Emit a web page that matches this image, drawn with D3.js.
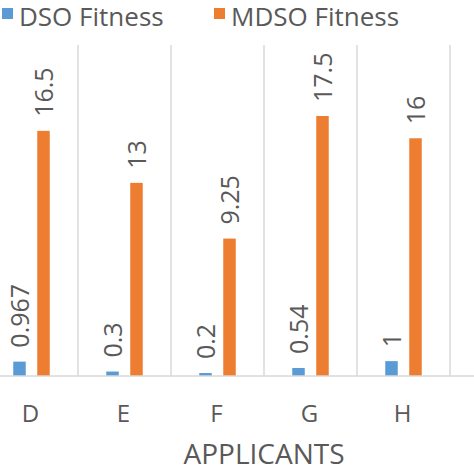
<!DOCTYPE html>
<html><head><meta charset="utf-8">
<script src="https://cdn.jsdelivr.net/npm/d3@7"></script>
<style>body{margin:0;background:#fff}text{font-family:"Open Sans",sans-serif;fill:#595959}</style>
</head><body><svg id="c" width="474" height="474"></svg>
<script>
const categories = ['D', 'E', 'F', 'G', 'H'];
const dsoValues = [0.967, 0.3, 0.2, 0.54, 1];
const mdsoValues = [16.5, 13, 9.25, 17.5, 16];
const dsoLabels = ['0.967', '0.3', '0.2', '0.54', '1'];
const mdsoLabels = ['16.5', '13', '9.25', '17.5', '16'];

const svg = d3.select('#c');
const baseY = 376;
const x = d3.scaleBand().domain(categories).range([-15, 450]);
const y = d3.scaleLinear().domain([0, 17.5]).range([baseY, 116]);
const series = [
    { vals: dsoValues, labels: dsoLabels, color: '#5B9BD5', off: -12 },
    { vals: mdsoValues, labels: mdsoLabels, color: '#ED7D31', off: 12 }
];
const bw = 12.5;

// gridlines at band edges
svg.selectAll('line.grid').data(categories).enter().append('line')
    .attr('x1', d => x(d) + x.bandwidth()).attr('x2', d => x(d) + x.bandwidth())
    .attr('y1', 45).attr('y2', baseY)
    .attr('stroke', '#d9d9d9').attr('stroke-width', 1.5);

series.forEach((s) => {
    const cx = d => x(d) + x.bandwidth() / 2 + s.off;
    svg.selectAll(null).data(categories).enter().append('rect')
        .attr('x', d => cx(d) - bw / 2)
        .attr('y', (d, i) => y(s.vals[i]))
        .attr('width', bw)
        .attr('height', (d, i) => baseY - y(s.vals[i]))
        .attr('fill', s.color);
    svg.selectAll(null).data(categories).enter().append('text')
        .attr('transform', (d, i) => `translate(${cx(d) + 9},${y(s.vals[i]) - 14}) rotate(-90)`)
        .attr('font-size', 25)
        .text((d, i) => s.labels[i]);
});

svg.append('line').attr('x1', 0).attr('x2', 474).attr('y1', baseY).attr('y2', baseY)
    .attr('stroke', '#d9d9d9').attr('stroke-width', 1.5);

svg.selectAll('text.tick').data(categories).enter().append('text')
    .attr('x', d => x(d) + x.bandwidth() / 2 - 1).attr('y', 422)
    .attr('text-anchor', 'middle').attr('font-size', 24).text(d => d);

svg.append('text').attr('x', 264).attr('y', 464).attr('text-anchor', 'middle')
    .attr('font-size', 28).text('APPLICANTS');

// legend
const legend = [['DSO Fitness', '#5B9BD5', 2], ['MDSO Fitness', '#ED7D31', 214]];
legend.forEach(([t, c, lx]) => {
    svg.append('rect').attr('x', lx).attr('y', 8).attr('width', 11).attr('height', 11).attr('fill', c);
    svg.append('text').attr('x', lx + 17).attr('y', 26).attr('font-size', 26).text(t);
});
</script></body></html>
